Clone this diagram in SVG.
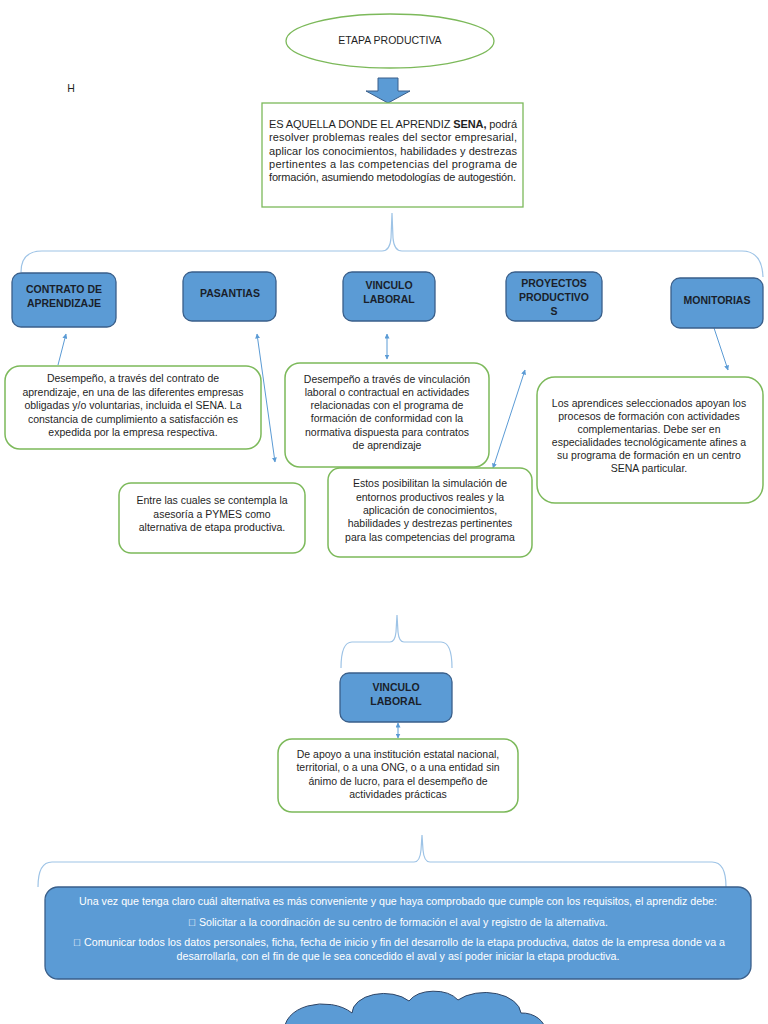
<svg xmlns="http://www.w3.org/2000/svg" width="768" height="1024" viewBox="0 0 768 1024">
<style>
text{font-family:"Liberation Sans",Arial,sans-serif;fill:#1f1f1f}
.t{font-size:10.5px;text-anchor:middle}
.b{font-size:10.5px;font-weight:bold;text-anchor:middle;fill:#1a1f2b}
.w{font-size:10px;text-anchor:middle;fill:#ffffff}
.blue{fill:#5b9bd5;stroke:#3a5f8a;stroke-width:1.3}
.green{fill:#ffffff;stroke:#7cb95a;stroke-width:1.5}
.con{fill:none;stroke:#5b9bd5;stroke-width:1}
.brace{fill:none;stroke:#9dc3e6;stroke-width:1.2}
</style>
<defs>
<marker id="ah" viewBox="0 0 10 10" refX="9" refY="5" markerWidth="5" markerHeight="5" orient="auto-start-reverse" markerUnits="strokeWidth">
<path d="M0,0 L10,5 L0,10 z" fill="#5b9bd5"/>
</marker>
</defs>
<rect width="768" height="1024" fill="#ffffff"/>

<g id="etapa">
<ellipse cx="390" cy="41" rx="104" ry="27" fill="#ffffff" stroke="#7cb95a" stroke-width="1.3"/>
<text x="390" y="44" style="font-size:10.5px;text-anchor:middle">ETAPA PRODUCTIVA</text>
</g>

<text id="h" x="71" y="92" style="font-size:10.5px;text-anchor:middle">H</text>

<g id="blockarrow">
<path d="M378,78 L398,78 L398,91 L410,91 L388,103 L366,91 L378,91 z" fill="#5b9bd5" stroke="#3a5f8a" stroke-width="1"/>
</g>

<g id="definicion">
<rect x="262" y="103" width="261" height="104" fill="#ffffff" stroke="#7cb95a" stroke-width="1.3"/>
<text x="269" y="128" textLength="248" lengthAdjust="spacing" style="font-size:11px">ES AQUELLA DONDE EL APRENDIZ <tspan font-weight="bold">SENA,</tspan> podrá</text>
<text x="269" y="141" textLength="248" lengthAdjust="spacing" style="font-size:11px">resolver problemas reales del sector empresarial,</text>
<text x="269" y="155" textLength="248" lengthAdjust="spacing" style="font-size:11px">aplicar los conocimientos, habilidades y destrezas</text>
<text x="269" y="168" textLength="248" lengthAdjust="spacing" style="font-size:11px">pertinentes a las competencias del programa de</text>
<text x="269" y="181" textLength="247" lengthAdjust="spacing" style="font-size:11px">formación, asumiendo metodologías de autogestión.</text>
</g>

<g id="connectors">
<path class="brace" d="M21,272 Q21,251 42,251 L382,251 Q390,251 391,238 L392,213 L393,238 Q394,251 402,251 L742,251 Q762,251 763,277"/>
<path class="brace" d="M341,668 Q341,642 352,642 L390,642 Q395,642 396,632 L397,615 L398,632 Q399,642 404,642 L441,642 Q452,642 452,668"/>
<path class="brace" d="M38,887 Q38,862 52,862 L414,862 Q420,862 421,850 L422,835 L423,850 Q424,862 430,862 L712,862 Q726,862 726,887"/>
<line class="con" x1="58" y1="365" x2="66" y2="334" marker-end="url(#ah)"/>
<line class="con" x1="257" y1="334" x2="275" y2="462" marker-start="url(#ah)" marker-end="url(#ah)"/>
<line class="con" x1="387" y1="334" x2="387" y2="359" marker-start="url(#ah)" marker-end="url(#ah)"/>
<line class="con" x1="493" y1="468" x2="525" y2="370" marker-start="url(#ah)" marker-end="url(#ah)"/>
<line class="con" x1="714" y1="328" x2="728" y2="370" marker-end="url(#ah)"/>
<line class="con" x1="398" y1="723" x2="398" y2="738" marker-start="url(#ah)" marker-end="url(#ah)"/>
</g>

<g id="contrato">
<rect class="blue" x="12" y="273" width="104" height="54" rx="9"/>
<text class="b" x="64" y="293">CONTRATO DE</text>
<text class="b" x="64" y="307">APRENDIZAJE</text>
</g>
<g id="pasantias">
<rect class="blue" x="183" y="272" width="93" height="49" rx="9"/>
<text class="b" x="230" y="297">PASANTIAS</text>
</g>
<g id="vinculo">
<rect class="blue" x="343" y="272" width="92" height="49" rx="9"/>
<text class="b" x="389" y="289">VINCULO</text>
<text class="b" x="389" y="303">LABORAL</text>
</g>
<g id="proyectos">
<rect class="blue" x="506" y="272" width="96" height="49" rx="9"/>
<text class="b" x="554" y="287">PROYECTOS</text>
<text class="b" x="554" y="301">PRODUCTIVO</text>
<text class="b" x="554" y="315">S</text>
</g>
<g id="monitorias">
<rect class="blue" x="671" y="278" width="92" height="50" rx="9"/>
<text class="b" x="717" y="304">MONITORIAS</text>
</g>

<g id="desc-contrato">
<rect class="green" x="5" y="366" width="256" height="83" rx="15"/>
<text class="t" x="133" y="382">Desempeño, a través del contrato de</text>
<text class="t" x="133" y="396">aprendizaje, en una de las diferentes empresas</text>
<text class="t" x="133" y="409">obligadas y/o voluntarias, incluida el SENA. La</text>
<text class="t" x="133" y="423">constancia de cumplimiento a satisfacción es</text>
<text class="t" x="133" y="436">expedida por la empresa respectiva.</text>
</g>

<g id="desc-pasantias">
<rect class="green" x="119" y="483" width="186" height="70" rx="12"/>
<text class="t" x="212" y="504">Entre las cuales se contempla la</text>
<text class="t" x="212" y="518">asesoría a PYMES como</text>
<text class="t" x="212" y="531">alternativa de etapa productiva.</text>
</g>

<g id="desc-vinculo">
<rect class="green" x="285" y="363" width="204" height="104" rx="15"/>
<text class="t" x="387" y="383">Desempeño a través de vinculación</text>
<text class="t" x="387" y="396">laboral o contractual en actividades</text>
<text class="t" x="387" y="409">relacionadas con el programa de</text>
<text class="t" x="387" y="422">formación de conformidad con la</text>
<text class="t" x="387" y="436">normativa dispuesta para contratos</text>
<text class="t" x="387" y="449">de aprendizaje</text>
</g>

<g id="desc-proyectos">
<rect class="green" x="328" y="468" width="204" height="89" rx="12"/>
<text class="t" x="430" y="487">Estos posibilitan la simulación de</text>
<text class="t" x="430" y="501">entornos productivos reales y la</text>
<text class="t" x="430" y="514">aplicación de conocimientos,</text>
<text class="t" x="430" y="527">habilidades y destrezas pertinentes</text>
<text class="t" x="430" y="541">para las competencias del programa</text>
</g>

<g id="desc-monitorias">
<rect class="green" x="537" y="377" width="226" height="126" rx="18"/>
<text class="t" x="649" y="407">Los aprendices seleccionados apoyan los</text>
<text class="t" x="649" y="420">procesos de formación con actividades</text>
<text class="t" x="649" y="433">complementarias. Debe ser en</text>
<text class="t" x="649" y="446">especialidades tecnológicamente afines a</text>
<text class="t" x="649" y="459">su programa de formación en un centro</text>
<text class="t" x="649" y="472">SENA particular.</text>
</g>

<g id="vinculo2">
<rect class="blue" x="340" y="673" width="112" height="49" rx="9"/>
<text class="b" x="396" y="691">VINCULO</text>
<text class="b" x="396" y="705">LABORAL</text>
</g>

<g id="desc-vinculo2">
<rect class="green" x="278" y="739" width="240" height="73" rx="14"/>
<text class="t" x="398" y="758">De apoyo a una institución estatal nacional,</text>
<text class="t" x="398" y="771">territorial, o a una ONG, o a una entidad sin</text>
<text class="t" x="398" y="785">ánimo de lucro, para el desempeño de</text>
<text class="t" x="398" y="798">actividades prácticas</text>
</g>

<g id="pasos">
<rect class="blue" x="45" y="887" width="706" height="92" rx="13"/>
<text class="w" x="398" y="905" textLength="638" lengthAdjust="spacingAndGlyphs">Una vez que tenga claro cuál alternativa es más conveniente y que haya comprobado que cumple con los requisitos, el aprendiz debe:</text>
<text class="w" x="398" y="926" textLength="420" lengthAdjust="spacingAndGlyphs">&#xF0B7; Solicitar a la coordinación de su centro de formación el aval y registro de la alternativa.</text>
<text class="w" x="399" y="946" textLength="652" lengthAdjust="spacingAndGlyphs">&#xF0B7; Comunicar todos los datos personales, ficha, fecha de inicio y fin del desarrollo de la etapa productiva, datos de  la empresa donde va a</text>
<text class="w" x="398" y="960" textLength="443" lengthAdjust="spacingAndGlyphs">desarrollarla, con el fin de que le sea concedido el aval y así poder iniciar la etapa productiva.</text>
</g>

<g id="nube">
<path d="M285,1032 A38,25 0 0 1 352,1013 A32,20 0 0 1 409,1001 A28,18 0 0 1 458,1000 A36,22 0 0 1 521,1013 A24,20 0 0 1 546,1032 z" fill="#5b9bd5" stroke="#2f4566" stroke-width="1"/>
</g>
</svg>
